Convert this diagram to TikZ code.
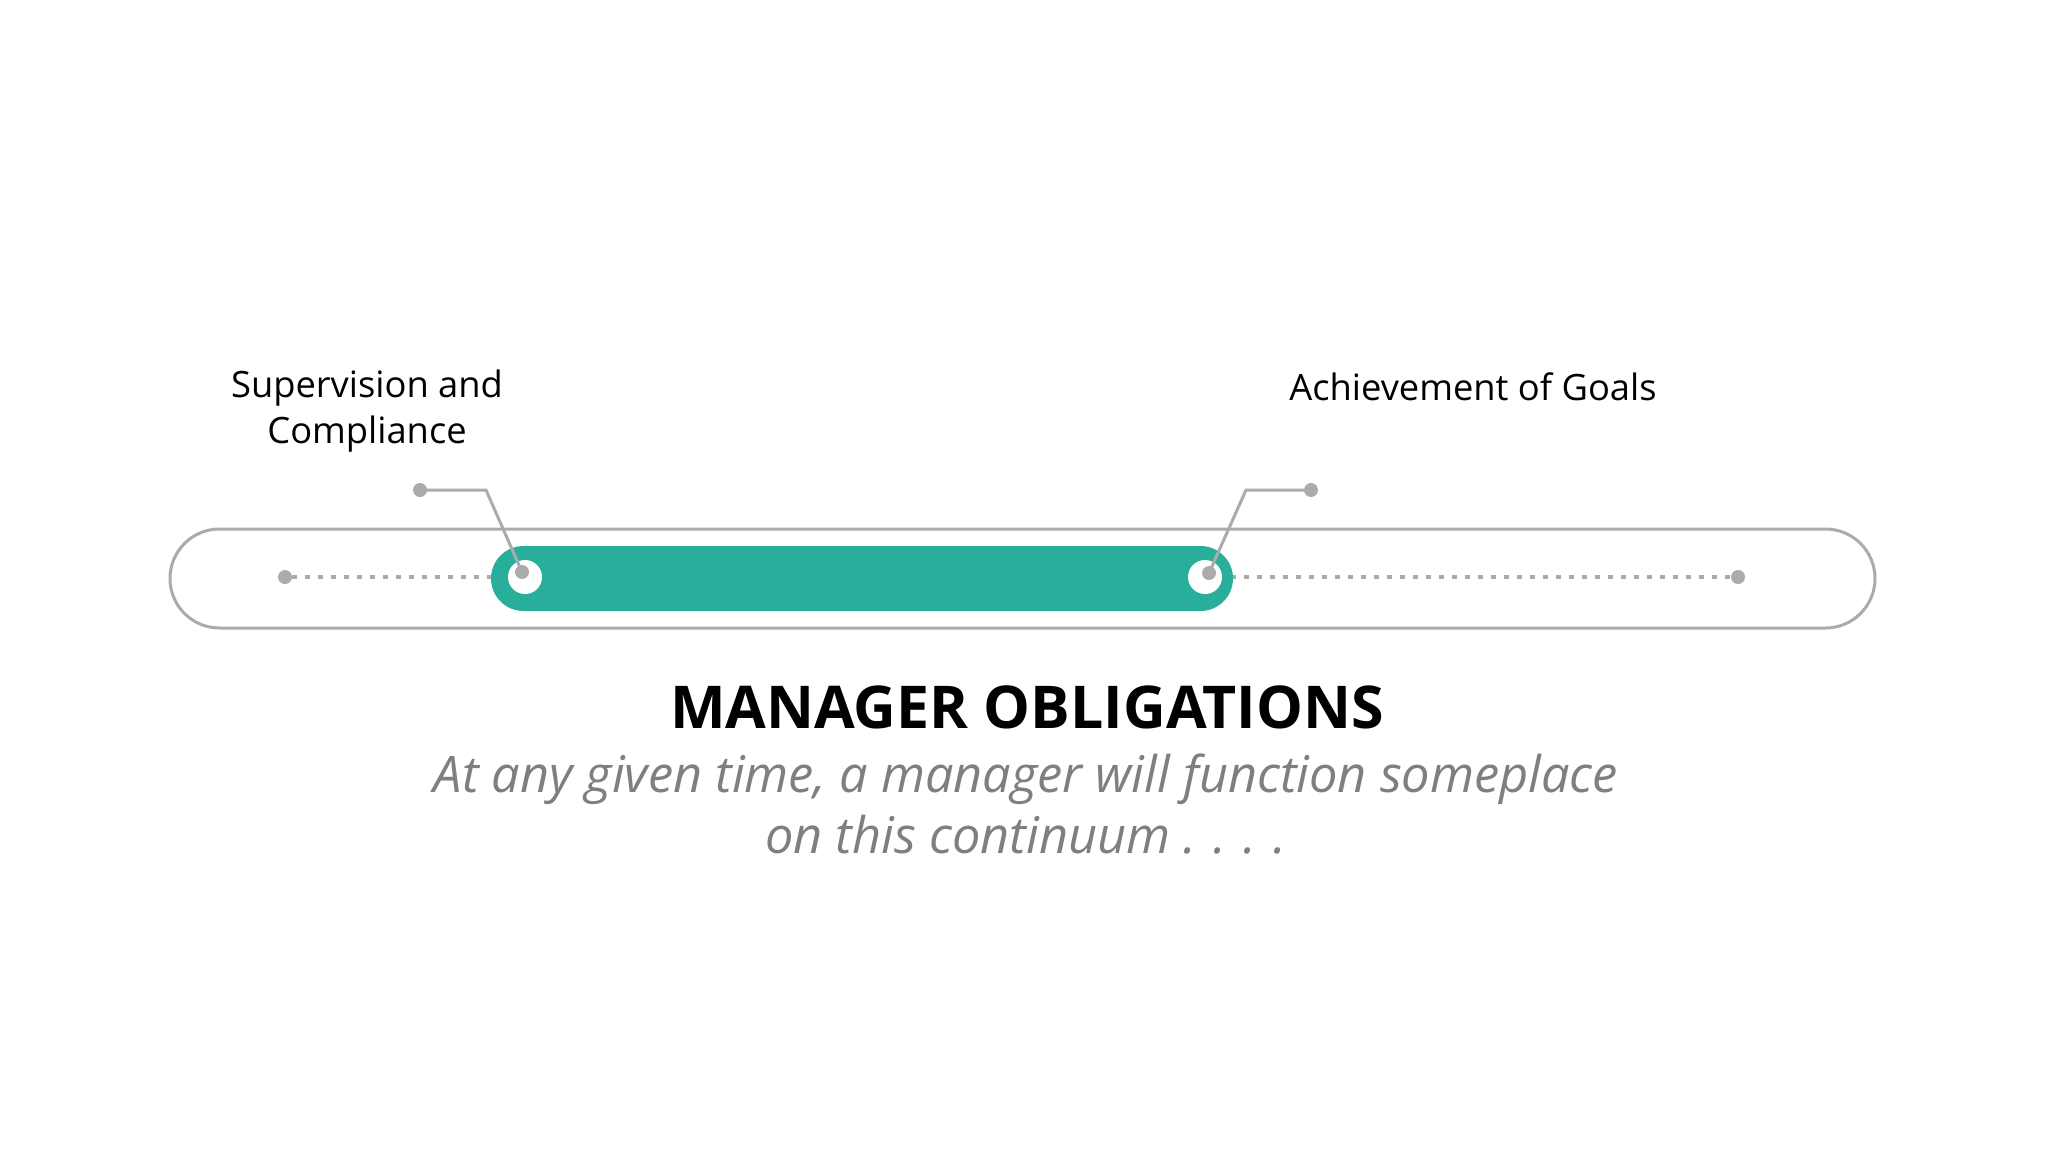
\documentclass[tikz,border=0pt]{standalone}
\usepackage{fontspec}
\setmainfont{Open Sans}
\definecolor{barteal}{HTML}{2AAE9C}
\definecolor{trackgray}{HTML}{ABABAB}
\definecolor{subgray}{HTML}{7F7F7F}
\tikzset{
  track/.style={draw=trackgray, line width=3pt, rounded corners=49.5pt},
  bar/.style={fill=barteal, rounded corners=32.5pt},
  knob/.style={circle, fill=white, inner sep=0pt, minimum size=34pt},
  graydot/.style={circle, fill=trackgray, inner sep=0pt, minimum size=14pt},
  leader/.style={draw=trackgray, line width=3pt},
  dotline/.style={draw=trackgray, line width=3.5pt, dash pattern=on 5pt off 8pt},
  labeltext/.style={font=\fontsize{36.3}{46}\selectfont, align=center, inner sep=0pt}
}
\begin{document}
\begin{tikzpicture}[x=1pt,y=-1pt]
\useasboundingbox[fill=white] (0,0) rectangle (2048,1152);
% outer track
\draw [track] (170,529) rectangle (1875,628);
% end dots and dotted lines
\node[graydot] (dl) at (285,577) {};
\node[graydot] (dr) at (1738,577) {};
\coordinate (bl) at (525,577);
\coordinate (br) at (1205,577);
\draw [dotline] (dl) -- (bl);
\draw [dotline] (br) -- (dr);
% teal range bar
\fill [bar] (491,546) rectangle (1233,611);
\node[knob] (kl) at (bl) {};
\node[knob] (kr) at (br) {};
\node[graydot] (pl) at (522,572) {};
\node[graydot] (pr) at (1209,573) {};
% leaders
\node[graydot] (sl) at (420,490) {};
\node[graydot] (sr) at (1311,490) {};
\coordinate (cl) at (486,490);
\coordinate (cr) at (1246,490);
\draw [leader] (sl.center) -- (cl) -- (pl.center);
\draw [leader] (sr.center) -- (cr) -- (pr.center);
% labels
\node[labeltext] (sup) at (367,411) {Supervision and\\Compliance};
\node[labeltext] (ach) at (1473,387) {Achievement of Goals};
\node[font=\fontsize{59}{62}\selectfont\bfseries, inner sep=0pt] (title) at (1027,707) {MANAGER OBLIGATIONS};
\node[font=\fontsize{50.5}{61}\selectfont\itshape, text=subgray, align=center, inner sep=0pt] (sub) at (1026,804) {At any given time, a manager will function someplace\\on this continuum . . . .};
\end{tikzpicture}
\end{document}
